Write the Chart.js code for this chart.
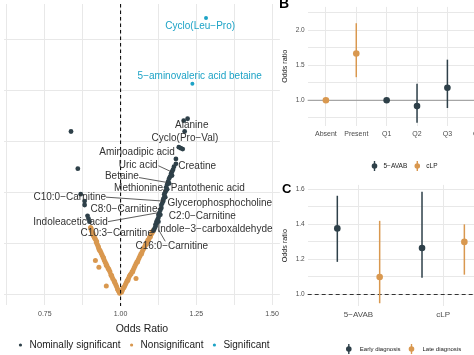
<!DOCTYPE html>
<html><head><meta charset="utf-8">
<script src="https://cdn.jsdelivr.net/npm/chart.js@4"></script>
<style>
html,body{margin:0;padding:0;background:#fff;overflow:hidden;width:474px;height:355px;}
canvas{position:absolute;}
#a{left:0;top:0;}
#b{left:280px;top:0;}
#c{left:280px;top:178px;}
</style></head><body>
<canvas id="a" width="284" height="355"></canvas>
<canvas id="b" width="222" height="178"></canvas>
<canvas id="c" width="222" height="177"></canvas>
<script>
// ---------- Panel A data (odds ratio, -log10 p) ----------
const sigOR   = [1.282, 1.237];
const sigLogP = [5.42, 4.13];

const nomOR = [1.2212,1.2083,1.2115,1.1923,1.1987,1.2051,1.1827,1.1827,1.1763,1.1731,1.1699,1.1667,1.1699,1.1635,1.1603,1.1571,1.1538,1.1506,1.1506,1.1474,1.1442,1.1442,1.1410,1.1410,1.1378,1.1346,1.1346,1.1314,1.1282,1.1250,1.1250,1.1218,1.1186,1.1186,1.1154,1.1154,1.1122,1.1090,1.1250,1.1314,1.1474,1.1538,1.1603,
  0.8365,0.8590,0.8686,0.8814,0.8814,0.8910,0.8942,0.8974];
const nomLogP = [3.442,3.404,3.192,2.885,2.865,2.846,2.654,2.558,2.500,2.442,2.404,2.365,2.327,2.308,2.269,2.212,2.154,2.096,2.038,2.000,1.962,1.904,1.865,1.827,1.788,1.750,1.692,1.654,1.596,1.558,1.500,1.462,1.423,1.385,1.365,1.327,1.288,1.250,1.423,1.558,1.904,2.058,2.173,
  3.192,2.462,1.962,1.827,1.750,1.538,1.481,1.423];

const nsOR = [0.901,0.904,0.907,0.910,0.913,0.917,0.920,0.923,0.926,0.929,0.933,0.936,0.939,0.942,0.946,0.949,0.952,0.955,0.958,0.962,0.965,0.968,0.971,0.974,0.978,0.981,0.984,0.987,0.990,0.994,0.997,
  0.903,0.909,0.915,0.921,0.927,0.931,0.944,0.953,0.960,0.970,0.980,0.992,0.917,0.9285,0.953,
  1.003,1.006,1.010,1.013,1.016,1.019,1.022,1.026,1.029,1.032,1.035,1.038,1.042,1.045,1.048,1.051,1.054,1.058,1.061,1.064,1.067,1.071,1.074,1.077,1.080,1.083,1.087,1.090,1.093,1.096,1.099,1.103,1.106,
  1.008,1.024,1.040,1.056,1.069,1.085,1.098,1.104,1.108,1.051];
const nsLogP = [1.31,1.25,1.21,1.15,1.12,1.08,1.02,0.98,0.94,0.88,0.85,0.81,0.77,0.73,0.67,0.63,0.60,0.56,0.52,0.48,0.44,0.38,0.35,0.31,0.27,0.23,0.19,0.15,0.10,0.06,0.02,
  1.29,1.19,1.10,1.04,0.92,0.86,0.71,0.57,0.50,0.37,0.25,0.08,0.66,0.53,0.16,
  0.04,0.08,0.12,0.15,0.19,0.23,0.27,0.31,0.35,0.38,0.40,0.44,0.48,0.52,0.56,0.60,0.63,0.67,0.71,0.75,0.79,0.83,0.87,0.90,0.94,0.98,1.02,1.06,1.08,1.12,1.15,1.19,1.23,
  0.12,0.27,0.44,0.63,0.79,0.98,1.12,1.21,1.25,0.31];

const xTicksA = [0.625,0.75,0.875,1.0,1.125,1.25,1.375,1.5];
const yTicksA = [0,1,2,3,4,5];

// ---------- Panel B data ----------
const bCats  = ['Absent','Present','Q1','Q2','Q3','Q4'];
const clpB   = [1.0, 1.667, null, null, null, null];
const clpLoB = [null, 1.33, null, null, null, null];
const clpHiB = [null, 2.10, null, null, null, null];
const avabB   = [null, null, 1.0, 0.917, 1.18, null];
const avabLoB = [null, null, null, 0.68, 0.89, null];
const avabHiB = [null, null, null, 1.236, 1.58, null];
const yTicksB = [0.75,1.0,1.25,1.5,1.75,2.0,2.25];

// ---------- Panel C data ----------
const cCats   = ['5−AVAB','cLP'];
const earlyC   = [1.377, 1.265];
const earlyLoC = [1.186, 1.096];
const earlyHiC = [1.563, 1.586];
const lateC    = [1.10, 1.30];
const lateLoC  = [0.95, 1.113];
const lateHiC  = [1.42, 1.40];
const yTicksC = [1.0,1.1,1.2,1.3,1.4,1.5,1.6];

// ---------- styles ----------
const FONT = "'Liberation Sans', Arial, Helvetica, sans-serif";
Chart.defaults.font.family = FONT;
Chart.defaults.color = '#4d4d4d';
const DARK = '#2E4049', ORANGE = '#D9984F', TEAL = '#1DA3C6', GRID = '#e8e8e8', TXT = '#1a1a1a';

const pts = (xs, ys) => xs.map((x, i) => ({x: x, y: ys[i]}));
const catPts = (vals, shift) => vals.map((v, i) => v == null ? null : {x: i + (shift || 0), y: v}).filter(p => p);

// Annotation labels for panel A (text, anchor in data units, optional leader line)
const labelsA = [
  {t:'Cyclo(Leu−Pro)', x:1.2628, y:5.25, c:TEAL},
  {t:'5−aminovaleric acid betaine', x:1.2612, y:4.28, c:TEAL},
  {t:'Alanine', x:1.235, y:3.32},
  {t:'Cyclo(Pro−Val)', x:1.2126, y:3.05},
  {t:'Aminoadipic acid', x:1.0545, y:2.775},
  {t:'Uric acid', x:1.0583, y:2.533, l:[1.125,2.519,1.1667,2.404]},
  {t:'Creatine', x:1.2526, y:2.519},
  {t:'Betaine', x:1.0043, y:2.308, l:[1.0609,2.288,1.1538,2.192]},
  {t:'Methionine', x:1.0593, y:2.071, l:[1.1378,2.058,1.1474,2.019]},
  {t:'Pantothenic acid', x:1.2878, y:2.071},
  {t:'C10:0−Carnitine', x:0.8324, y:1.910, l:[0.9519,1.904,1.141,1.827]},
  {t:'Glycerophosphocholine', x:1.3276, y:1.782},
  {t:'C8:0−Carnitine', x:1.0112, y:1.667, l:[1.1218,1.673,1.1346,1.692]},
  {t:'C2:0−Carnitine', x:1.2699, y:1.538},
  {t:'Indoleacetic acid', x:0.8349, y:1.417, l:[0.9583,1.423,1.1218,1.596]},
  {t:'C10:3−Carnitine', x:0.9872, y:1.186, l:[1.1058,1.196,1.1154,1.269]},
  {t:'Indole−3−carboxaldehyde', x:1.3115, y:1.269},
  {t:'C16:0−Carnitine', x:1.1689, y:0.936, l:[1.1474,1.038,1.125,1.269]}
];

const vlineA = {
  id:'vlineA',
  afterDatasetsDraw(chart){
    const {ctx, chartArea, scales} = chart;
    const x = scales.x.getPixelForValue(1.0);
    ctx.save();
    ctx.strokeStyle = '#111'; ctx.lineWidth = 1.1; ctx.setLineDash([3.5,3]);
    ctx.beginPath(); ctx.moveTo(x, chartArea.top); ctx.lineTo(x, chartArea.bottom + 1); ctx.stroke();
    ctx.restore();
  }
};
const labelPluginA = {
  id:'labelsA',
  afterDatasetsDraw(chart){
    const {ctx, scales} = chart;
    const X = v => scales.x.getPixelForValue(v), Y = v => scales.y.getPixelForValue(v);
    ctx.save();
    ctx.strokeStyle = '#333'; ctx.lineWidth = 0.8;
    labelsA.forEach(L => {
      if (L.l) { ctx.beginPath(); ctx.moveTo(X(L.l[0]), Y(L.l[1])); ctx.lineTo(X(L.l[2]), Y(L.l[3])); ctx.stroke(); }
    });
    ctx.font = '10px ' + FONT; ctx.textAlign = 'center'; ctx.textBaseline = 'middle';
    labelsA.forEach(L => { ctx.fillStyle = L.c || '#333'; ctx.fillText(L.t, X(L.x), Y(L.y)); });
    ctx.restore();
  }
};
function drawLegend(ctx, items, cx, y, fontSize, glyph, g2t, t2g){
  ctx.save();
  ctx.font = fontSize + 'px ' + FONT; ctx.textBaseline = 'middle'; ctx.textAlign = 'left';
  const widths = items.map(it => ctx.measureText(it[0]).width);
  let total = 0; widths.forEach((w, i) => { total += g2t + w + (i < items.length - 1 ? t2g : 0); });
  let x = cx - total / 2;
  items.forEach((it, i) => {
    glyph(ctx, x, y, it[1]);
    ctx.fillStyle = TXT; ctx.fillText(it[0], x + g2t, y);
    x += g2t + widths[i] + t2g;
  });
  ctx.restore();
}
const dotGlyph = (ctx, x, y, c) => { ctx.fillStyle = c; ctx.beginPath(); ctx.arc(x, y, 1.6, 0, Math.PI*2); ctx.fill(); };
const rangeGlyph = (ctx, x, y, c) => {
  ctx.strokeStyle = c; ctx.lineWidth = 1.4; ctx.beginPath(); ctx.moveTo(x, y-5); ctx.lineTo(x, y+5); ctx.stroke();
  ctx.fillStyle = c; ctx.beginPath(); ctx.arc(x, y, 2.8, 0, Math.PI*2); ctx.fill();
};
const legendA = {
  id:'legendA',
  afterDraw(chart){
    drawLegend(chart.ctx, [['Nominally significant', DARK], ['Nonsignificant', ORANGE], ['Significant', TEAL]], 145, 345, 10, dotGlyph, 9, 11);
  }
};

new Chart(document.getElementById('a'), {
  type:'scatter',
  data:{datasets:[
    {label:'Significant', data:pts(sigOR, sigLogP), backgroundColor:TEAL, borderWidth:0, pointRadius:2},
    {label:'Nominally significant', data:pts(nomOR, nomLogP), backgroundColor:DARK, borderWidth:0, pointRadius:2.4},
    {label:'Nonsignificant', data:pts(nsOR, nsLogP), backgroundColor:ORANGE, borderWidth:0, pointRadius:2.5}
  ]},
  options:{
    responsive:false, animation:false, devicePixelRatio:1,
    layout:{padding:{left:0, right:0, top:0, bottom:20}},
    plugins:{legend:{display:false}, tooltip:{enabled:false}},
    scales:{
      x:{type:'linear', min:0.61538, max:1.52564,
         afterBuildTicks: s => { s.ticks = xTicksA.map(v => ({value:v})); },
         ticks:{font:{size:7}, color:'#4d4d4d', padding:5, maxRotation:0, autoSkip:false,
                callback: v => (Math.abs(v*4 - Math.round(v*4)) < 1e-9 ? Number(v).toFixed(2) : '')},
         grid:{color:GRID, drawTicks:false, lineWidth:1}, border:{display:false},
         title:{display:true, text:'Odds Ratio', font:{size:10.5}, color:TXT, padding:{top:-1, bottom:0}}},
      y:{type:'linear', min:-0.2115, max:5.6923,
         afterBuildTicks: s => { s.ticks = yTicksA.map(v => ({value:v})); },
         ticks:{display:false}, grid:{color:GRID, drawTicks:false, lineWidth:1}, border:{display:false}}
    }
  },
  plugins:[vlineA, labelPluginA, legendA]
});

// ---------- error bar plugin (uses chart scales) ----------
const errorBars = {
  id:'errorBars',
  beforeDatasetsDraw(chart){
    const {ctx, scales} = chart;
    ctx.save();
    chart.data.datasets.forEach((ds) => {
      if (!ds.lo) return;
      ctx.strokeStyle = ds.backgroundColor; ctx.lineWidth = 1.5;
      ds.data.forEach((p, i) => {
        if (ds.lo[i] == null) return;
        const x = scales.x.getPixelForValue(p.x);
        ctx.beginPath(); ctx.moveTo(x, scales.y.getPixelForValue(ds.lo[i])); ctx.lineTo(x, scales.y.getPixelForValue(ds.hi[i])); ctx.stroke();
      });
    });
    ctx.restore();
  }
};
function alignLo(vals, lo){ const out = []; vals.forEach((v, i) => { if (v != null) out.push(lo[i]); }); return out; }

// ---------- Panel B ----------
const refLineB = {
  id:'refLineB',
  beforeDatasetsDraw(chart){
    const {ctx, chartArea, scales} = chart;
    const y = scales.y.getPixelForValue(1.0);
    ctx.save(); ctx.strokeStyle = '#a6a6a6'; ctx.lineWidth = 1.3;
    ctx.beginPath(); ctx.moveTo(chartArea.left, y); ctx.lineTo(chartArea.right, y); ctx.stroke(); ctx.restore();
  },
  afterDraw(chart){
    const ctx = chart.ctx;
    ctx.save(); ctx.fillStyle = '#000'; ctx.font = 'bold 14px ' + FONT; ctx.textBaseline = 'alphabetic'; ctx.textAlign = 'left';
    ctx.fillText('B', -1, 8); ctx.restore();
    drawLegend(ctx, [['5−AVAB', DARK], ['cLP', ORANGE]], 126, 166, 6.5, rangeGlyph, 9, 10);
  }
};
const yAxisCommon = (ticks, min, max, lblFn) => ({
  type:'linear', min:min, max:max,
  afterBuildTicks: s => { s.ticks = ticks.map(v => ({value:v})); },
  ticks:{font:{size:6.5}, color:'#4d4d4d', padding:3, callback: lblFn},
  grid:{color:GRID, drawTicks:false}, border:{display:false},
  title:{display:true, text:'Odds ratio', font:{size:7.2}, color:TXT, padding:{top:0, bottom:3}}
});

new Chart(document.getElementById('b'), {
  type:'scatter',
  data:{datasets:[
    {label:'5−AVAB', data:catPts(avabB), lo:alignLo(avabB, avabLoB), hi:alignLo(avabB, avabHiB), backgroundColor:DARK, borderWidth:0, pointRadius:3.3},
    {label:'cLP', data:catPts(clpB), lo:alignLo(clpB, clpLoB), hi:alignLo(clpB, clpHiB), backgroundColor:ORANGE, borderWidth:0, pointRadius:3.3}
  ]},
  options:{
    responsive:false, animation:false, devicePixelRatio:1,
    layout:{padding:{left:1, right:6, top:1, bottom:36}},
    plugins:{legend:{display:false}, tooltip:{enabled:false}},
    scales:{
      x:{type:'linear', min:-0.6, max:5.6,
         afterBuildTicks: s => { s.ticks = bCats.map((c, i) => ({value:i})); },
         ticks:{font:{size:7}, color:'#4d4d4d', padding:4, autoSkip:false, maxRotation:0, callback: v => bCats[v]},
         grid:{color:GRID, drawTicks:false}, border:{display:false}},
      y: yAxisCommon(yTicksB, 0.639, 2.333, v => (Math.abs(v*2 - Math.round(v*2)) < 1e-9 ? Number(v).toFixed(1) : ''))
    }
  },
  plugins:[refLineB, errorBars]
});

// ---------- Panel C ----------
const refLineC = {
  id:'refLineC',
  beforeDatasetsDraw(chart){
    const {ctx, chartArea, scales} = chart;
    const y = scales.y.getPixelForValue(1.0);
    ctx.save(); ctx.strokeStyle = '#333'; ctx.lineWidth = 1.2; ctx.setLineDash([4,3]);
    ctx.beginPath(); ctx.moveTo(chartArea.left, y); ctx.lineTo(chartArea.right, y); ctx.stroke(); ctx.restore();
  },
  afterDraw(chart){
    const ctx = chart.ctx;
    ctx.save(); ctx.fillStyle = '#000'; ctx.font = 'bold 13px ' + FONT; ctx.textBaseline = 'middle'; ctx.textAlign = 'left';
    ctx.fillText('C', 2, 11); ctx.restore();
    drawLegend(ctx, [['Early diagnosis', DARK], ['Late diagnosis', ORANGE]], 125, 171, 6, rangeGlyph, 11, 11);
  }
};

new Chart(document.getElementById('c'), {
  type:'scatter',
  data:{datasets:[
    {label:'Early diagnosis', data:catPts(earlyC, -0.25), lo:earlyLoC, hi:earlyHiC, backgroundColor:DARK, borderWidth:0, pointRadius:3.3},
    {label:'Late diagnosis', data:catPts(lateC, 0.25), lo:lateLoC, hi:lateHiC, backgroundColor:ORANGE, borderWidth:0, pointRadius:3.3}
  ]},
  options:{
    responsive:false, animation:false, devicePixelRatio:1,
    layout:{padding:{left:1, right:8, top:5, bottom:31}},
    plugins:{legend:{display:false}, tooltip:{enabled:false}},
    scales:{
      x:{type:'linear', min:-0.6, max:1.6,
         afterBuildTicks: s => { s.ticks = cCats.map((c, i) => ({value:i})); },
         ticks:{font:{size:8}, color:'#4d4d4d', padding:4, autoSkip:false, maxRotation:0, callback: v => cCats[v]},
         grid:{color:GRID, drawTicks:false}, border:{display:false}},
      y: yAxisCommon(yTicksC, 0.932, 1.625, v => (Math.round(v*10) % 2 === 0 ? Number(v).toFixed(1) : ''))
    }
  },
  plugins:[refLineC, errorBars]
});
</script>
</body></html>
